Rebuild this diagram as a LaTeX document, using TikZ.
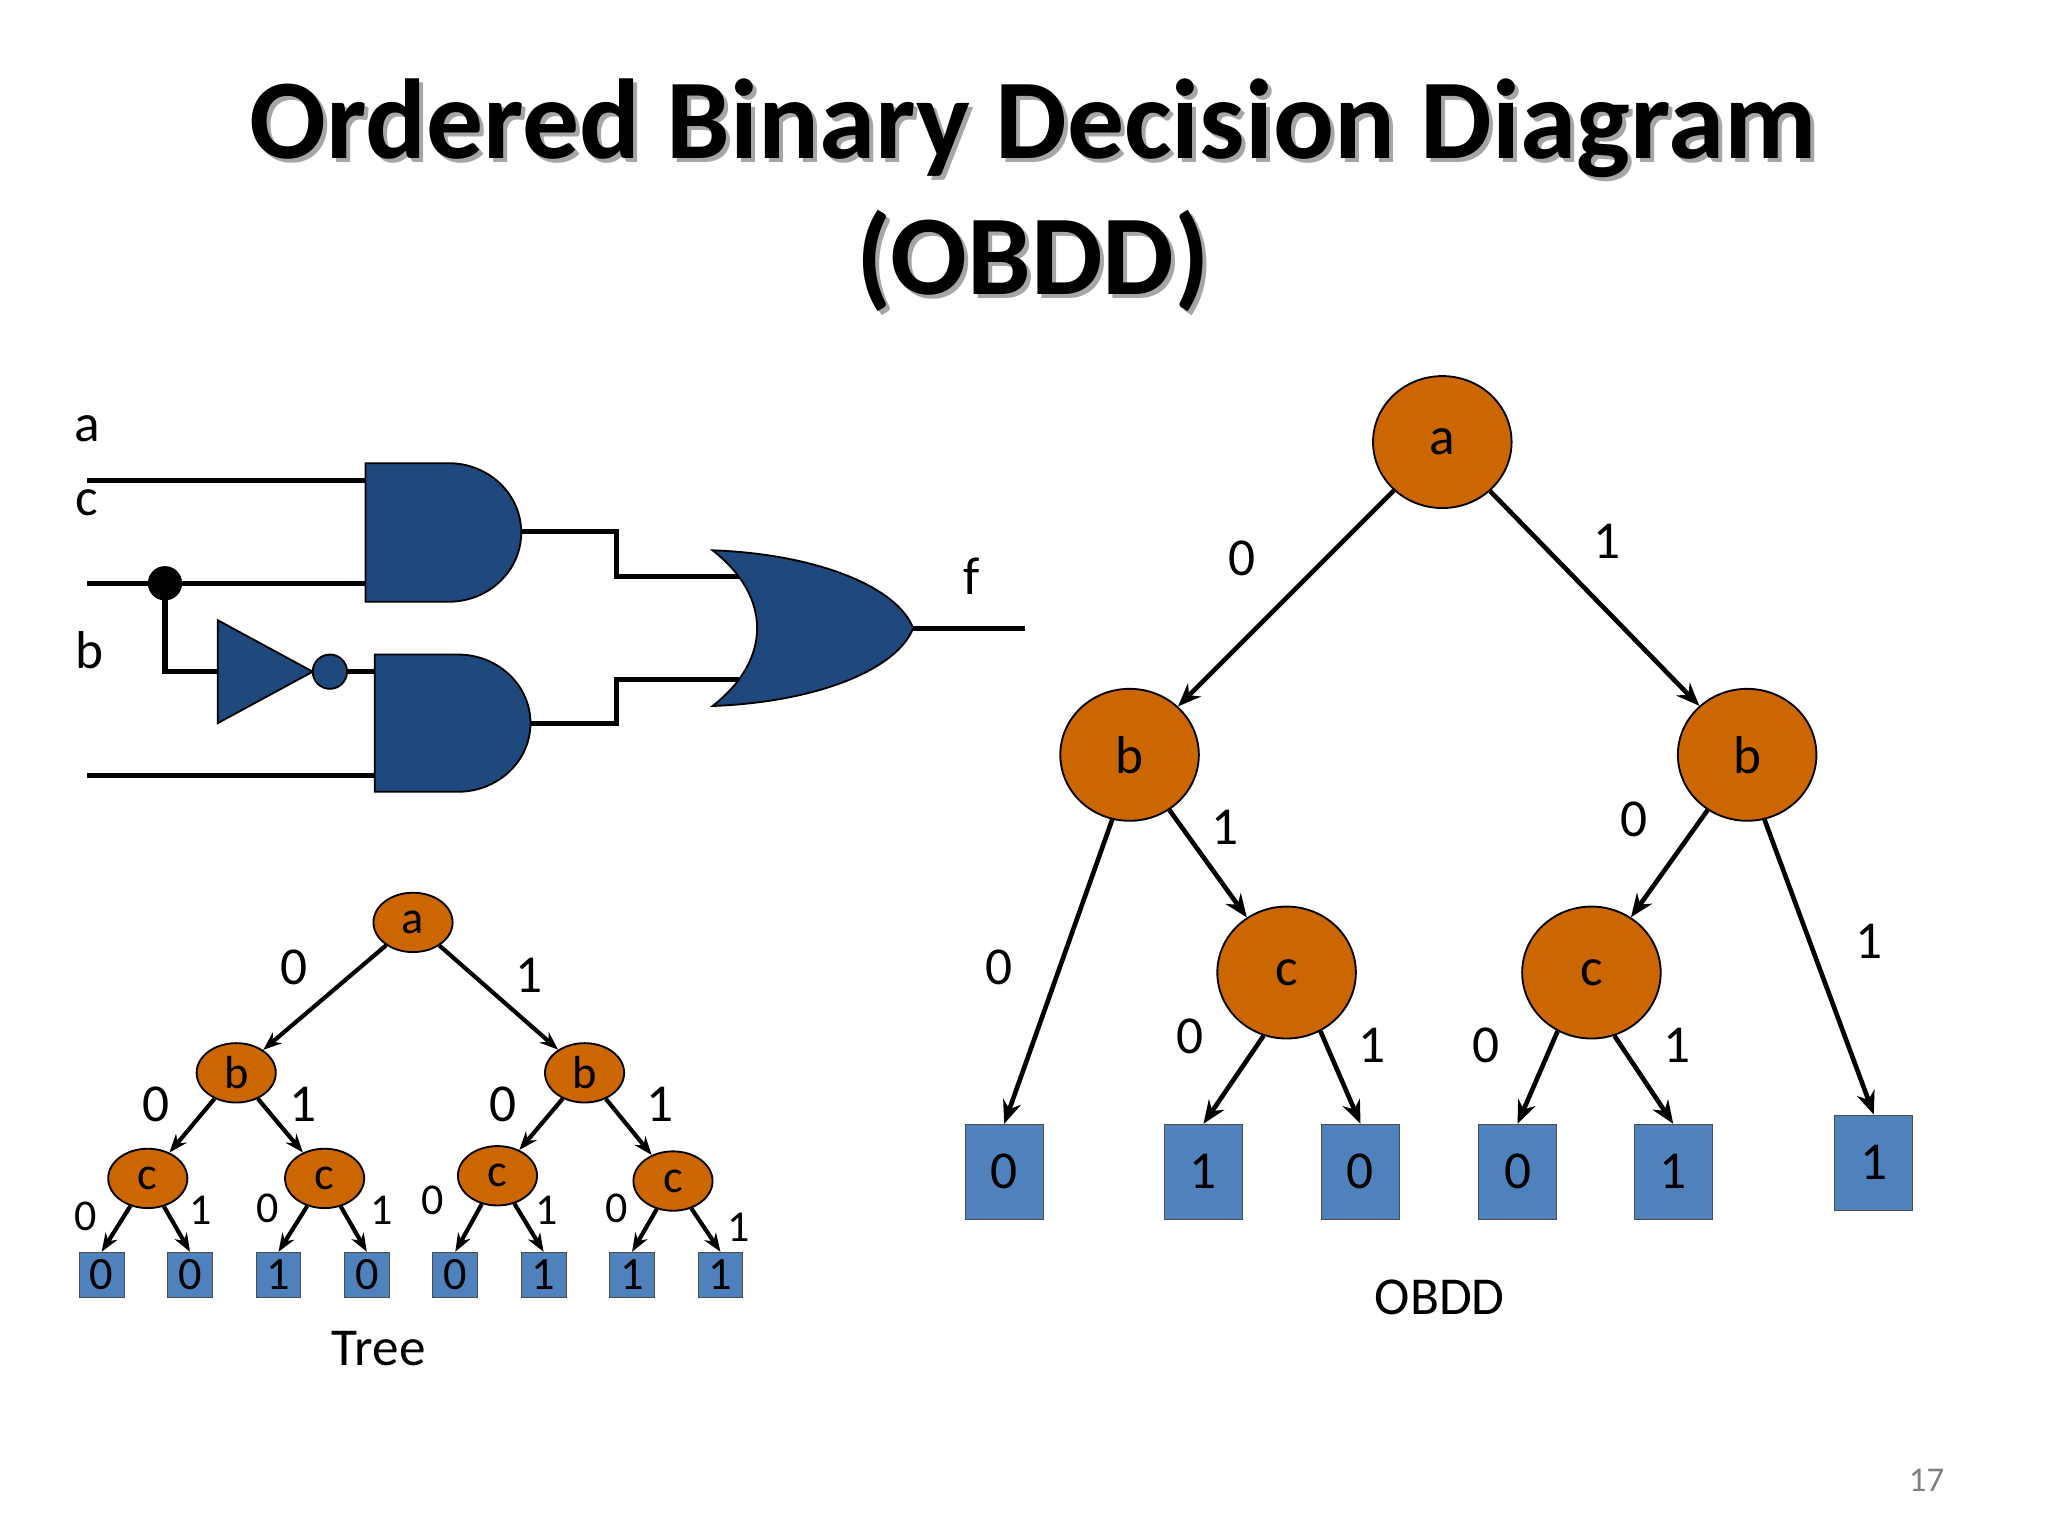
\documentclass[tikz,border=0pt]{standalone}
\usepackage{fontspec}
\setmainfont{Carlito}
\usetikzlibrary{arrows.meta,shapes.geometric}
\definecolor{org}{HTML}{CC6600}
\definecolor{box}{HTML}{4F81BD}
\definecolor{gate}{HTML}{1F497D}
\begin{document}
\begin{tikzpicture}[x=0.02cm,y=-0.02cm,
 bn/.style={ellipse,draw=black,thick,fill=org,inner sep=0pt,minimum width=105*0.02cm,minimum height=100*0.02cm,font=\fontsize{23}{25}\selectfont},
 tn/.style={ellipse,draw=black,thick,fill=org,inner sep=0pt,minimum width=60*0.02cm,minimum height=45*0.02cm,font=\fontsize{20}{22}\selectfont},
 bl/.style={rectangle,draw=black!70,fill=box,minimum width=59*0.02cm,minimum height=72*0.02cm,font=\fontsize{23}{25}\selectfont},
 tl/.style={rectangle,draw=black!70,fill=box,minimum width=34*0.02cm,minimum height=34*0.02cm,inner sep=0pt,font=\fontsize{20}{22}\selectfont},
 ed/.style={-{Stealth[length=10pt,width=8pt]},line width=2pt},
 te/.style={-{Stealth[length=8pt,width=6pt]},line width=1.8pt},
 lb/.style={font=\fontsize{23}{25}\selectfont},
 tlb/.style={font=\fontsize{19}{21}\selectfont},
 wire/.style={line width=2.2pt}]
\useasboundingbox (0,0) rectangle (1552,1164);
% title
\foreach \dx/\c in {3/black!35,0/black}{
\node[text=\c,font=\fontsize{49}{52}\selectfont\bfseries] (t1) at (783+\dx,97+\dx) {Ordered Binary Decision Diagram};
\node[text=\c,font=\fontsize{49}{52}\selectfont\bfseries] (t2) at (783+\dx,198+\dx) {(OBDD)};}
% circuit
\node[lb] (la) at (66,325) {a};
\node[lb] (lc) at (66,381) {c};
\node[lb] (lb) at (68,493) {b};
\node[lb] (lf) at (736,437) {f};
\draw[wire] (66,364) -- (277,364);
\draw[wire] (66,442) -- (277,442);
\draw[wire] (125,442) -- (125,509) -- (165,509);
\draw[wire] (263,509) -- (284,509);
\draw[wire] (66,588) -- (284,588);
\draw[wire] (395,403) -- (467,403) -- (467,437) -- (560,437);
\draw[wire] (402,548) -- (467,548) -- (467,515) -- (560,515);
\draw[wire] (690,476) -- (777,476);
\fill[gate,draw=black,thick] (277,351) -- (340,351) arc[start angle=-90,end angle=90,x radius=55,y radius=52.5] -- (277,456) -- cycle;
\fill[gate,draw=black,thick] (284,496) -- (347,496) arc[start angle=-90,end angle=90,x radius=55,y radius=52] -- (284,600) -- cycle;
\fill[gate,draw=black,thick] (540,417) .. controls (620,420) and (680,445) .. (692,476) .. controls (680,507) and (620,532) .. (540,535) .. controls (585,500) and (585,452) .. (540,417) -- cycle;
\fill[gate,draw=black,thick] (165,470) -- (237,509) -- (165,548) -- cycle;
\fill[gate,draw=black,thick] (250,509) circle[radius=13];
\fill[black] (125,442) circle[radius=13];
% OBDD
\node[bn] (A) at (1093,335) {a};
\node[bn] (B1) at (856,572) {b};
\node[bn] (B2) at (1324,572) {b};
\node[bn] (C1) at (975,737) {c};
\node[bn] (C2) at (1206,737) {c};
\node[bl] (L1) at (761,888) {0};
\node[bl] (L2) at (912,888) {1};
\node[bl] (L3) at (1031,888) {0};
\node[bl] (L4) at (1150,888) {0};
\node[bl] (L5) at (1268,888) {1};
\node[bl] (L6) at (1420,881) {1};
\draw[ed] (A) -- (B1); \draw[ed] (A) -- (B2);
\draw[ed] (B1.-105) -- (L1.north); \draw[ed] (B1) -- (C1);
\draw[ed] (B2) -- (C2); \draw[ed] (B2.-75) -- (L6.north);
\draw[ed] (C1.-110) -- (L2.north); \draw[ed] (C1.-60) -- (L3.north);
\draw[ed] (C2.-120) -- (L4.north); \draw[ed] (C2.-70) -- (L5.north);
\node[lb] at (941,423) {0}; \node[lb] at (1218,410) {1};
\node[lb] at (928,627) {1}; \node[lb] at (1238,621) {0};
\node[lb] at (757,733) {0}; \node[lb] at (1416,713) {1};
\node[lb] at (902,785) {0}; \node[lb] at (1040,792) {1};
\node[lb] at (1126,792) {0}; \node[lb] at (1271,792) {1};
\node[lb] (obdd) at (1091,983) {OBDD};
% Tree
\node[tn] (ta) at (313,699) {a};
\node[tn] (tb1) at (179,813) {b};
\node[tn] (tb2) at (443,813) {b};
\node[tn] (tc1) at (112,893) {c};
\node[tn] (tc2) at (246,893) {c};
\node[tn] (tc3) at (377,891) {c};
\node[tn] (tc4) at (510,895) {c};
\foreach \i/\x/\v in {1/77/0,2/144/0,3/211/1,4/278/0,5/345/0,6/412/1,7/479/1,8/546/1}
  \node[tl] (tl\i) at (\x,966) {\v};
\draw[te] (ta) -- (tb1); \draw[te] (ta) -- (tb2);
\draw[te] (tb1) -- (tc1); \draw[te] (tb1) -- (tc2);
\draw[te] (tb2) -- (tc3); \draw[te] (tb2) -- (tc4);
\draw[te] (tc1) -- (tl1.north); \draw[te] (tc1) -- (tl2.north);
\draw[te] (tc2) -- (tl3.north); \draw[te] (tc2) -- (tl4.north);
\draw[te] (tc3) -- (tl5.north); \draw[te] (tc3) -- (tl6.north);
\draw[te] (tc4) -- (tl7.north); \draw[te] (tc4) -- (tl8.north);
\node[lb] at (223,733) {0}; \node[lb] at (401,739) {1};
\node[lb] at (118,837) {0}; \node[lb] at (230,837) {1};
\node[lb] at (381,837) {0}; \node[lb] at (500,837) {1};
\foreach \x/\y/\v in {65/922/0,152/917/1,203/916/0,289/917/1,328/910/0,414/917/1,467/916/0,560/930/1}
  \node[tlb] at (\x,\y) {\v};
\node[lb] (tree) at (287,1022) {Tree};
\node[text=black!50,font=\fontsize{15}{17}\selectfont] (pg) at (1460,1122) {17};
\end{tikzpicture}
\end{document}
